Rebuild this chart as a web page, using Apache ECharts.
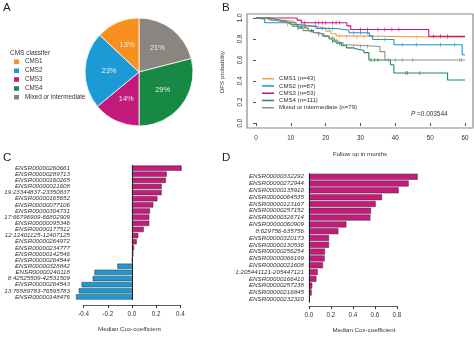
<!DOCTYPE html>
<html><head><meta charset="utf-8">
<script src="https://cdn.jsdelivr.net/npm/echarts@6/dist/echarts.min.js"></script>
<style>html,body{margin:0;padding:0;background:#fff}#c{width:474px;height:349px}</style>
</head><body><div id="c"></div>
<script>
// ---- Panel A: pie ----
const pieNames = ['Mixed or intermediate', 'CMS4', 'CMS3', 'CMS2', 'CMS1'];
const pieValues = [21, 29, 14, 23, 13];
const pieLegendOrder = ['CMS1', 'CMS2', 'CMS3', 'CMS4', 'Mixed or intermediate'];

// ---- Panel B: Kaplan-Meier ----
const kmNames = ['CMS1 (n=43)', 'CMS2 (n=87)', 'CMS3 (n=53)', 'CMS4 (n=111)', 'Mixed or intermediate (n=79)'];
const kmCMS1 = [[0,1],[4,0.977],[9,0.965],[11,0.94],[14,0.92],[17,0.905],[20,0.875],[21.5,0.85],[23,0.83],[25,0.816],[60,0.816]];
const kmCMS2 = [[0,1],[1,0.985],[2.5,0.955],[11.5,0.935],[12.5,0.92],[17.5,0.9],[23,0.885],[26.7,0.86],[32.5,0.83],[33.5,0.795],[39.6,0.745],[59.2,0.65],[60,0.65]];
const kmCMS3 = [[0,1],[11.8,0.98],[12.8,0.965],[13.3,0.955],[26.1,0.925],[27.2,0.89],[49.6,0.825],[60,0.825]];
const kmCMS4 = [[0,1],[4,0.985],[6,0.97],[8,0.955],[10,0.935],[12,0.915],[13.5,0.9],[15,0.88],[16.5,0.86],[18,0.845],[19.5,0.825],[21,0.8],[22,0.78],[23,0.76],[24.5,0.735],[26,0.715],[28,0.705],[29,0.69],[31,0.67],[32.4,0.6],[38.6,0.555],[39.6,0.476],[55,0.41],[60,0.41]];
const kmMixed = [[0,1],[2,0.985],[4,0.97],[7,0.955],[9,0.94],[10.5,0.92],[12,0.9],[13.5,0.88],[15,0.865],[16.5,0.85],[19,0.83],[21,0.81],[22.5,0.79],[23.5,0.765],[25,0.745],[26.5,0.728],[35.6,0.68],[37,0.6],[60,0.6]];
const censCMS1 = [15, 24, 26, 29, 31, 35, 46, 52, 55];
const censCMS2 = [14, 17, 19, 21, 22, 28, 30, 32, 37, 42, 46, 53, 57];
const censCMS3 = [13, 14, 17, 18, 19, 20, 22, 23, 24, 30, 32, 35, 37, 39, 41, 51, 53, 55];
const censCMS4 = [13, 16, 18, 22, 24, 33, 34, 35, 43, 43.5, 47];
const censMixed = [9, 12, 18, 22, 28, 30, 32, 38, 40, 42, 45, 58.5, 59];
const kmXTicks = [0, 10, 20, 30, 40, 50, 60];
const kmYTicks = [0, 0.2, 0.4, 0.6, 0.8, 1.0];
const pText = '0.003544';

// ---- Panel C ----
const cNames = ['ENSR00000260661','ENSR00000289713','ENSR00000160265','ENSR00000021608','19:23344837-23350837','ENSR00000165652','ENSR00000077106','ENSR00000304731','17:66796909-66802909','ENSR00000095346','ENSR00000177512','12:12401125-12407125','ENSR00000264972','ENSR00000234777','ENSR00000142546','ENSR00000264544','ENSR00000328842','ENSR00000240118','8:42525509-42531509','ENSR00000264543','13:76589783-76595783','ENSR00000148476'];
const cValues = [0.41,0.287,0.28,0.245,0.245,0.21,0.176,0.149,0.143,0.143,0.097,0.052,0.039,0.017,0.011,0.003,-0.121,-0.31,-0.325,-0.416,-0.44,-0.463];

// ---- Panel D ----
const dNames = ['ENSR00000332292','ENSR00000272944','ENSR00000135910','ENSR00000064535','ENSR00000123167','ENSR00000257152','ENSR00000326714','ENSR00000060909','8:629756-635756','ENSR00000320173','ENSR00000130536','ENSR00000256254','ENSR00000066199','ENSR00000021608','1:205441121-205447121','ENSR00000166410','ENSR00000257238','ENSR00000216845','ENSR00000232320'];
const dValues = [0.988,0.906,0.815,0.664,0.606,0.564,0.558,0.34,0.267,0.182,0.182,0.145,0.142,0.127,0.079,0.067,0.03,0.024,0.006];

// ---- styling ----
const pieColors = {'CMS1':'#F7901E','CMS2':'#1C9AD6','CMS3':'#C21A7B','CMS4':'#168A45','Mixed or intermediate':'#8B847F'};
const kmColors = ['#F5A04E','#1F93D2','#C8157C','#1E8C4E','#8E8E8E'];
const posColor = '#C8197D', negColor = '#1D9AD6';
const FF = '"Liberation Sans", Arial, sans-serif';
const TXT = '#333';

function stepAt(curve, t) {
  let v = curve[0][1];
  for (const p of curve) { if (p[0] <= t) v = p[1]; }
  return v;
}
const kmCurves = [kmCMS1, kmCMS2, kmCMS3, kmCMS4, kmMixed];
const kmCens = [censCMS1, censCMS2, censCMS3, censCMS4, censMixed];

const series = [];
series.push({
  type: 'pie', center: [139, 72], radius: 54, startAngle: 90, clockwise: true,
  data: pieNames.map((n, i) => ({ name: n, value: pieValues[i], itemStyle: { color: pieColors[n] } })),
  itemStyle: { borderColor: '#fff', borderWidth: 0.8 },
  label: { show: true, position: 'inside', formatter: '{c}%', color: '#ECECEC', fontSize: 7.5, fontFamily: FF },
  labelLine: { show: false }, silent: true
});
kmCurves.forEach((c, i) => {
  series.push({
    type: 'line', name: kmNames[i], xAxisIndex: 0, yAxisIndex: 0, step: 'end',
    data: c, symbol: 'none', showSymbol: false,
    lineStyle: { color: kmColors[i], width: 1.1 }, itemStyle: { color: kmColors[i] }, z: 3
  });
  series.push({
    type: 'scatter', name: 'cens' + i, xAxisIndex: 0, yAxisIndex: 0,
    data: kmCens[i].map(t => [t, stepAt(c, t)]),
    symbol: 'rect', symbolSize: [0.8, 4], itemStyle: { color: kmColors[i] }, z: 3, silent: true
  });
});
series.push({
  type: 'bar', xAxisIndex: 1, yAxisIndex: 1, data: cValues, clip: false,
  barCategoryGap: '14%',
  itemStyle: { color: p => p.value >= 0 ? posColor : negColor, borderColor: '#333', borderWidth: 0.5 },
  markLine: { silent: true, symbol: 'none', label: { show: false },
    lineStyle: { color: '#222', width: 1, type: 'solid' }, data: [{ xAxis: 0 }] }
});
series.push({
  type: 'bar', xAxisIndex: 2, yAxisIndex: 2, data: dValues, clip: false,
  barCategoryGap: '12%',
  itemStyle: { color: posColor, borderColor: '#333', borderWidth: 0.5 },
  markLine: { silent: true, symbol: 'none', label: { show: false },
    lineStyle: { color: '#222', width: 1, type: 'solid' }, data: [{ xAxis: 0 }] }
});

const axisTxt = { fontSize: 6.3, color: TXT, fontFamily: FF };
const option = {
  animation: false,
  textStyle: { fontFamily: FF },
  grid: [
    { left: 247, top: 14, width: 226, height: 114, show: true, borderColor: '#8a8a8a', borderWidth: 1.2 },
    { left: 83.6, top: 165, width: 96.8, height: 135 },
    { left: 309, top: 173.3, width: 88, height: 129.4 }
  ],
  xAxis: [
    { gridIndex: 0, type: 'value', min: -2.584, max: 62.3,
      axisLine: { show: false }, splitLine: { show: false },
      axisTick: { show: true, length: 3, customValues: kmXTicks, lineStyle: { color: '#555' } },
      axisLabel: Object.assign({ customValues: kmXTicks, margin: 7, formatter: v => String(Math.round(v)) }, axisTxt) },
    { gridIndex: 1, type: 'value', min: -0.4, max: 0.4, interval: 0.2, offset: 5,
      axisLine: { show: true, lineStyle: { color: '#333', width: 0.8 } }, splitLine: { show: false },
      axisTick: { show: true, length: 3, lineStyle: { color: '#333' } },
      axisLabel: Object.assign({ margin: 6, formatter: v => v.toFixed(1) }, axisTxt) },
    { gridIndex: 2, type: 'value', min: 0, max: 0.8, interval: 0.2, offset: 3.5,
      axisLine: { show: true, lineStyle: { color: '#333', width: 0.8 } }, splitLine: { show: false },
      axisTick: { show: true, length: 3, lineStyle: { color: '#333' } },
      axisLabel: Object.assign({ margin: 6, formatter: v => v.toFixed(1) }, axisTxt) }
  ],
  yAxis: [
    { gridIndex: 0, type: 'value', min: -0.0476, max: 1.038,
      axisLine: { show: false }, splitLine: { show: false },
      axisTick: { show: true, length: 3, customValues: kmYTicks, lineStyle: { color: '#555' } },
      axisLabel: Object.assign({ customValues: kmYTicks, rotate: 90, margin: 4, formatter: v => v.toFixed(1) }, axisTxt) },
    { gridIndex: 1, type: 'category', inverse: true, data: cNames,
      axisLine: { show: false, onZero: false }, axisTick: { show: false },
      axisLabel: { interval: 0, margin: 13.6, fontSize: 6.2, fontStyle: 'italic', color: TXT, fontFamily: FF } },
    { gridIndex: 2, type: 'category', inverse: true, data: dNames,
      axisLine: { show: false, onZero: false }, axisTick: { show: false },
      axisLabel: { interval: 0, margin: 5, fontSize: 6.2, fontStyle: 'italic', color: TXT, fontFamily: FF } }
  ],
  legend: [
    { data: pieLegendOrder, orient: 'vertical', left: 12, top: 57.5, icon: 'rect',
      itemWidth: 7, itemHeight: 6.5, itemGap: 0.4, itemTextGap: 3, padding: 0,
      textStyle: { fontSize: 6.3, lineHeight: 7, color: TXT, fontFamily: FF }, selectedMode: false },
    { data: kmNames, orient: 'vertical', left: 262, top: 75.1, icon: 'rect',
      itemWidth: 12, itemHeight: 1.5, itemGap: 0, itemTextGap: 4, padding: 0,
      textStyle: { fontSize: 6.1, lineHeight: 7.25, color: TXT, fontFamily: FF }, selectedMode: false }
  ],
  graphic: [
    { type: 'text', x: 3, y: 2, style: { text: 'A', fontSize: 11.5, fill: '#222', fontFamily: FF } },
    { type: 'text', x: 222, y: 2, style: { text: 'B', fontSize: 11.5, fill: '#222', fontFamily: FF } },
    { type: 'text', x: 3, y: 152, style: { text: 'C', fontSize: 11.5, fill: '#222', fontFamily: FF } },
    { type: 'text', x: 222, y: 152, style: { text: 'D', fontSize: 11.5, fill: '#222', fontFamily: FF } },
    { type: 'text', x: 10, y: 53, style: { text: 'CMS classifer', fontSize: 6.5, fill: TXT, fontFamily: FF, verticalAlign: 'middle' } },
    { type: 'text', x: 222, y: 72, rotation: Math.PI / 2, style: { text: 'DFS probability', fontSize: 6.2, fill: TXT, fontFamily: FF, align: 'center', verticalAlign: 'middle' } },
    { type: 'text', x: 360, y: 154, style: { text: 'Follow up in months', fontSize: 6.1, fill: TXT, fontFamily: FF, align: 'center', verticalAlign: 'middle' } },
    { type: 'text', x: 411, y: 114, style: { text: '{i|P} =' + pText, rich: { i: { fontStyle: 'italic', fontSize: 6.5, fill: TXT, fontFamily: FF } }, fontSize: 6.4, fill: TXT, fontFamily: FF, verticalAlign: 'middle' } },
    { type: 'text', x: 129.5, y: 329, style: { text: 'Median Cox-coefficient', fontSize: 6.2, fill: TXT, fontFamily: FF, align: 'center', verticalAlign: 'middle' } },
    { type: 'text', x: 364, y: 330.5, style: { text: 'Median Cox-coefficient', fontSize: 6.2, fill: TXT, fontFamily: FF, align: 'center', verticalAlign: 'middle' } }
  ],
  series: series
};
const chart = echarts.init(document.getElementById('c'), null, { renderer: 'canvas' });
chart.setOption(option);
</script></body></html>
